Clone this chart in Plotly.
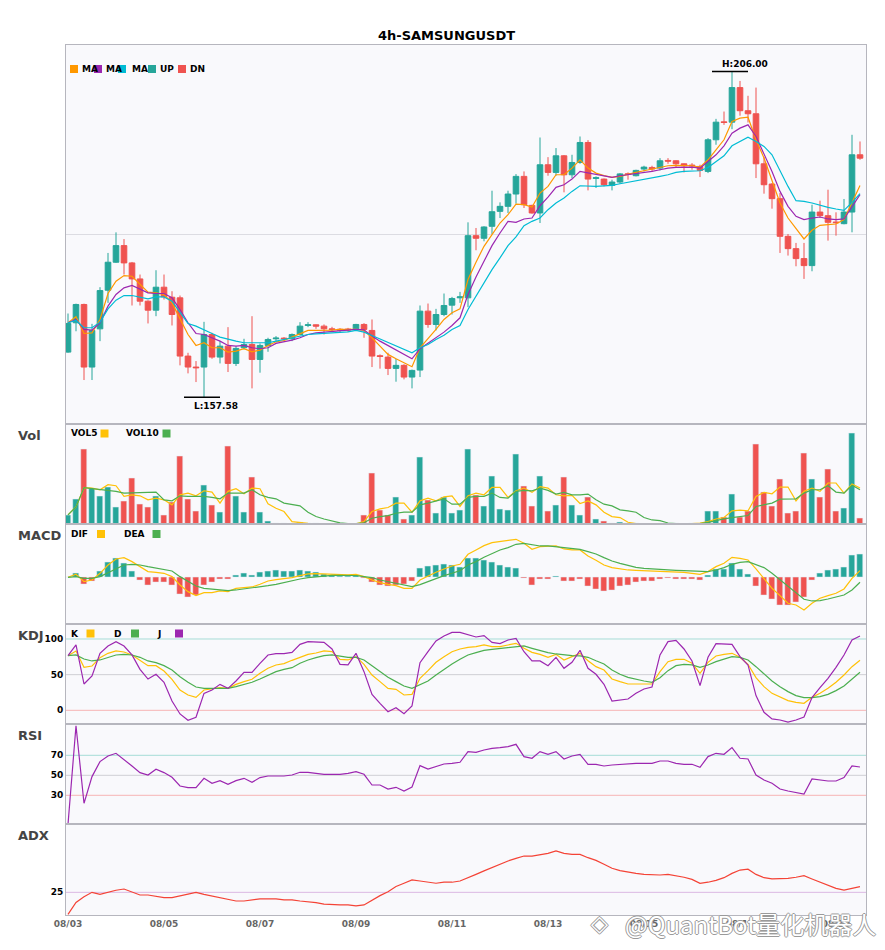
import pandas as pd
import plotly.graph_objects as go
from plotly.subplots import make_subplots

# 4h candles of SAMSUNGUSDT
symbol = "SAMSUNGUSDT"
interval = "4h"
times = pd.date_range("2025-08-03 00:00", periods=100, freq="4h")

open_ = [164.30, 168.66, 171.38, 162.08, 167.76, 173.50, 177.66, 180.13, 177.56, 175.18,
         171.87, 170.53, 173.95, 172.46, 172.37, 163.71, 162.08, 162.08, 166.92, 163.56,
         165.19, 162.62, 164.95, 165.44, 163.21, 165.29, 166.28, 166.38, 166.28, 166.92,
         168.26, 168.36, 168.16, 167.76, 167.70, 167.72, 167.76, 168.41, 167.52, 163.76,
         163.56, 161.88, 162.33, 160.59, 161.63, 170.39, 168.41, 169.89, 171.28, 172.37,
         172.37, 181.61, 181.22, 183.00, 185.22, 185.97, 187.80, 190.42, 186.11, 184.98,
         192.15, 191.01, 193.48, 190.66, 192.49, 195.46, 190.12, 190.02, 189.08, 189.58,
         190.81, 190.52, 191.51, 191.75, 191.65, 192.79, 192.74, 192.29, 192.10, 191.90,
         191.16, 195.86, 198.53, 198.48, 203.62, 200.18, 199.73, 192.29, 189.28, 187.11,
         181.51, 179.68, 178.20, 177.16, 185.12, 184.58, 183.64, 183.39, 185.12, 193.63]
high = [170.04, 171.50, 171.50, 168.50, 173.95, 179.04, 182.10, 181.10, 177.70, 175.83,
        172.00, 176.47, 175.83, 173.35, 172.71, 164.20, 162.97, 168.80, 167.17, 165.93,
        168.01, 165.19, 166.28, 169.64, 165.59, 166.43, 166.68, 166.53, 167.07, 168.75,
        168.75, 168.41, 168.41, 168.06, 167.86, 167.90, 168.50, 168.60, 169.15, 163.96,
        164.20, 163.31, 162.50, 161.70, 171.23, 171.52, 170.73, 173.01, 172.51, 173.25,
        183.59, 182.75, 183.00, 188.29, 186.56, 188.29, 190.76, 191.16, 186.20, 196.20,
        193.28, 194.63, 193.60, 193.63, 196.35, 195.81, 190.42, 190.10, 189.93, 190.91,
        191.01, 191.41, 192.00, 192.00, 193.13, 193.13, 192.80, 192.35, 192.39, 192.15,
        196.10, 198.97, 200.06, 206.00, 204.61, 202.40, 203.62, 193.28, 189.43, 187.95,
        181.86, 180.53, 180.53, 186.21, 186.81, 188.44, 185.08, 187.06, 196.60, 195.61]
low = [164.20, 167.40, 160.15, 160.15, 165.93, 171.62, 177.56, 175.83, 171.23, 171.23,
       168.56, 169.64, 172.12, 168.26, 162.33, 161.14, 159.85, 157.58, 163.31, 162.62,
       161.34, 162.23, 164.70, 158.91, 161.24, 164.35, 165.78, 165.93, 165.93, 166.78,
       168.01, 167.76, 166.92, 167.27, 167.27, 167.30, 167.60, 166.43, 162.08, 161.84,
       160.89, 159.90, 160.25, 158.91, 160.59, 167.92, 167.52, 169.64, 169.89, 171.62,
       170.98, 179.44, 180.77, 181.86, 184.23, 184.98, 186.37, 185.72, 184.88, 183.49,
       190.52, 190.52, 188.05, 190.17, 192.30, 188.34, 188.69, 188.93, 188.34, 189.33,
       189.93, 190.42, 191.16, 191.16, 191.31, 192.29, 191.75, 191.01, 191.41, 190.32,
       190.91, 195.12, 198.08, 197.44, 199.44, 198.43, 190.17, 187.85, 185.62, 179.04,
       178.65, 177.06, 175.18, 176.32, 184.23, 180.87, 181.61, 183.30, 182.11, 192.89]
close = [168.56, 171.38, 162.08, 167.52, 173.45, 177.66, 180.13, 177.56, 175.18, 171.87,
         170.53, 173.95, 172.51, 169.89, 163.71, 162.08, 161.98, 166.92, 163.56, 165.19,
         162.62, 164.85, 165.44, 163.21, 165.29, 166.18, 166.38, 166.28, 166.92, 168.16,
         168.36, 168.16, 167.76, 167.67, 167.57, 167.60, 168.41, 167.67, 163.71, 163.66,
         161.88, 162.33, 160.59, 161.58, 170.39, 168.41, 169.89, 171.23, 172.27, 172.51,
         181.61, 181.22, 182.90, 185.17, 185.97, 187.80, 190.42, 186.21, 184.98, 192.15,
         191.01, 193.48, 190.66, 192.49, 195.46, 190.02, 190.22, 189.18, 189.58, 190.79,
         190.71, 191.31, 191.80, 191.51, 192.74, 192.69, 192.29, 192.00, 192.00, 191.31,
         195.86, 198.48, 198.43, 203.62, 200.18, 199.73, 192.29, 189.18, 187.11, 181.51,
         179.68, 178.20, 177.16, 185.12, 184.58, 183.59, 183.54, 185.12, 193.63, 193.13]

ma5 = [168.66, 169.55, 167.07, 167.17, 169.15, 173.01, 174.84, 175.68, 175.58, 174.34,
       173.21, 173.11, 172.86, 171.62, 169.15, 166.92, 165.29, 165.69, 164.95, 164.95,
       164.30, 164.45, 164.80, 164.35, 164.60, 165.29, 165.83, 166.03, 166.53, 167.07,
       167.52, 167.52, 167.52, 167.57, 167.67, 167.67, 167.67, 167.52, 166.43, 165.19,
       163.96, 163.31, 162.72, 162.13, 164.95, 166.28, 167.67, 169.15, 170.14, 170.73,
       175.09, 177.66, 180.03, 181.76, 183.49, 184.73, 186.31, 186.21, 185.87, 187.94,
       188.93, 190.66, 190.66, 191.65, 192.89, 191.65, 190.91, 190.54, 190.27, 190.42,
       190.66, 191.01, 191.26, 191.51, 191.75, 192.00, 192.05, 192.05, 192.00, 191.80,
       192.89, 194.37, 195.86, 198.58, 199.07, 199.22, 195.86, 193.14, 189.68, 186.46,
       184.23, 182.60, 181.12, 182.40, 183.15, 183.25, 183.34, 184.00, 186.46, 189.08]
ma10 = [168.66, 169.15, 167.67, 167.57, 168.66, 171.13, 172.86, 173.85, 174.20, 173.70,
        173.11, 173.01, 173.01, 172.37, 170.63, 168.66, 167.07, 166.92, 166.43, 165.93,
        165.29, 165.19, 165.29, 164.95, 164.80, 164.95, 165.59, 165.78, 166.08, 166.43,
        166.92, 167.17, 167.27, 167.37, 167.42, 167.57, 167.67, 167.62, 166.68, 165.93,
        165.29, 164.60, 163.96, 163.31, 164.80, 165.59, 166.43, 167.27, 168.26, 169.40,
        172.86, 175.48, 177.81, 180.13, 182.01, 183.74, 183.59, 184.09, 184.23, 186.06,
        187.35, 188.79, 189.18, 190.02, 191.16, 190.91, 190.66, 190.42, 190.27, 190.52,
        190.66, 190.91, 191.01, 191.16, 191.41, 191.65, 191.75, 191.80, 191.80, 191.65,
        192.64, 193.63, 194.97, 196.85, 197.59, 198.08, 196.35, 193.88, 191.16, 188.19,
        185.97, 184.48, 183.99, 184.23, 184.38, 184.09, 183.99, 184.09, 185.97, 187.70]
ma20 = [168.66, 169.00, 167.92, 167.92, 168.75, 170.73, 172.02, 172.71, 172.71, 172.51,
        172.22, 172.51, 172.51, 171.87, 170.14, 168.56, 168.16, 167.57, 167.07, 166.53,
        166.18, 165.93, 165.69, 165.69, 165.69, 165.69, 165.93, 166.18, 166.53, 166.78,
        166.92, 167.02, 167.07, 167.17, 167.27, 167.32, 167.52, 167.27, 166.78, 166.28,
        165.69, 165.19, 164.70, 164.20, 164.95, 165.44, 166.18, 166.82, 167.67, 168.26,
        170.63, 172.61, 174.59, 176.57, 178.30, 180.13, 181.42, 183.10, 183.74, 184.23,
        185.47, 186.46, 187.20, 188.19, 189.03, 188.93, 188.93, 189.00, 189.08, 189.33,
        189.53, 189.82, 190.02, 190.17, 190.42, 190.66, 191.01, 191.16, 191.26, 191.26,
        191.75, 192.64, 193.48, 194.97, 195.61, 196.25, 195.61, 194.87, 193.63, 191.16,
        188.93, 186.81, 186.71, 186.46, 186.11, 185.82, 185.57, 185.37, 186.56, 187.85]

volume = [9.3, 25.3, 74.3, 35.3, 27.7, 36.7, 16.7, 23.3, 45.3, 20.3,
          16.7, 28.3, 9.3, 22.0, 67.3, 25.3, 13.3, 38.3, 19.3, 12.0,
          77.3, 28.3, 12.0, 46.7, 12.0, 3.3, 1.3, 1.3, 0.3, 1.7,
          0.7, 0.7, 0.3, 0.5, 0.4, 0.3, 0.5, 8.7, 50.3, 14.3,
          8.7, 27.3, 5.3, 8.7, 66.3, 24.3, 11.3, 26.7, 11.3, 14.3,
          74.3, 28.7, 18.3, 47.3, 15.3, 14.3, 69.3, 37.3, 18.3, 47.3,
          13.3, 19.3, 46.7, 19.3, 8.7, 26.7, 5.3, 3.3, 1.3, 2.3,
          1.3, 0.7, 0.5, 0.3, 0.3, 1.3, 0.7, 0.5, 1.0, 1.0,
          13.3, 13.3, 7.3, 29.3, 7.3, 12.7, 79.3, 31.3, 18.3, 44.3,
          11.3, 13.3, 70.3, 44.3, 26.7, 54.3, 13.3, 16.3, 90.3, 6.3]
vol5 = [9.3, 17.3, 36.3, 36.0, 34.3, 39.3, 38.3, 27.7, 29.3, 28.3,
        24.3, 26.0, 24.3, 19.3, 29.3, 31.0, 28.3, 33.3, 32.0, 21.0,
        32.7, 35.3, 30.3, 36.0, 35.3, 20.3, 16.0, 12.7, 2.7, 1.7,
        1.0, 0.8, 0.8, 0.7, 0.6, 0.5, 0.5, 2.7, 12.7, 15.3,
        16.7, 21.0, 21.0, 12.0, 23.3, 26.0, 23.3, 27.3, 28.3, 17.7,
        28.3, 31.0, 29.3, 36.7, 36.7, 26.7, 33.3, 36.0, 31.7, 37.3,
        36.0, 29.3, 28.3, 28.7, 20.7, 23.3, 19.3, 12.0, 7.7, 6.7,
        2.0, 0.7, 0.6, 0.5, 0.5, 0.6, 0.6, 0.6, 0.8, 1.3,
        2.7, 5.3, 6.7, 13.3, 14.0, 13.3, 27.7, 31.7, 30.3, 37.0,
        37.0, 23.3, 32.7, 36.0, 32.7, 41.0, 41.0, 31.0, 40.0, 36.0]
vol10 = [9.3, 17.3, 36.3, 35.3, 34.3, 34.0, 32.7, 31.0, 31.0, 31.7,
         31.7, 32.0, 24.3, 23.3, 28.3, 27.7, 27.7, 27.7, 26.7, 25.3,
         31.0, 31.0, 31.0, 34.3, 29.3, 26.7, 25.3, 21.0, 19.3, 18.3,
         12.0, 7.7, 5.3, 3.3, 1.5, 0.7, 0.7, 1.5, 6.0, 7.7,
         8.7, 11.0, 12.0, 12.0, 19.3, 21.0, 23.3, 25.3, 20.0, 20.0,
         26.7, 27.7, 27.7, 31.0, 26.7, 26.0, 32.7, 33.7, 33.3, 36.0,
         33.7, 30.0, 31.7, 29.3, 29.3, 30.0, 24.3, 20.0, 18.3, 14.3,
         13.3, 12.0, 6.7, 4.3, 3.7, 1.3, 0.8, 0.8, 0.8, 0.8,
         2.0, 3.3, 5.3, 6.7, 7.7, 8.7, 17.7, 19.3, 21.0, 25.0,
         25.0, 25.3, 31.0, 34.3, 34.3, 38.3, 32.0, 31.0, 38.7, 34.3]

macd_hist = [0.0, 0.65, -1.05, -0.55, 0.95, 2.3, 2.9, 2.15, 0.95, -0.5,
             -1.25, -0.8, -0.8, -1.25, -2.6, -3.05, -2.65, -1.15, -0.8, -0.25,
             -0.25, 0.35, 0.65, 0.35, 0.8, 0.95, 1.1, 0.95, 0.95, 1.1,
             0.95, 0.8, 0.5, 0.25, 0.1, 0.1, 0.25, -0.15, -0.75, -1.15,
             -1.4, -1.15, -1.05, -0.65, 1.35, 1.7, 1.8, 1.95, 1.85, 1.55,
             2.9, 2.9, 2.6, 2.3, 1.85, 1.55, 1.4, -0.15, -1.15, -0.25,
             -0.25, 0.15, -0.65, -0.65, -0.25, -1.4, -1.8, -2.15, -2.0, -1.4,
             -1.15, -0.8, -0.55, -0.55, -0.25, -0.15, -0.25, -0.25, -0.3, -0.5,
             0.35, 1.25, 1.25, 2.15, 1.25, 0.5, -1.4, -2.75, -3.35, -4.25,
             -4.25, -3.8, -3.05, -0.5, 0.65, 1.1, 1.25, 1.55, 3.35, 3.5]
dif = [0.0, 0.45, -0.65, -0.4, 0.6, 1.85, 2.75, 2.95, 2.35, 1.6,
       0.85, 0.75, 0.6, 0.1, -1.15, -2.15, -2.75, -2.3, -2.3, -2.05,
       -2.15, -1.65, -1.55, -1.45, -1.05, -0.55, -0.35, -0.25, -0.05, 0.25,
       0.5, 0.55, 0.5, 0.45, 0.35, 0.35, 0.45, 0.1, -0.4, -0.8,
       -1.05, -1.25, -1.65, -1.65, -0.4, 0.2, 0.75, 1.25, 1.7, 1.95,
       3.45, 4.1, 4.75, 5.2, 5.35, 5.45, 5.7, 5.1, 4.2, 4.6,
       4.6, 4.7, 4.25, 4.1, 4.1, 3.2, 2.55, 1.85, 1.45, 1.25,
       1.1, 1.05, 1.0, 1.0, 1.0, 0.95, 0.85, 0.75, 0.6, 0.45,
       0.85, 1.6, 2.1, 3.0, 2.85, 2.6, 1.25, -0.15, -1.65, -2.75,
       -3.9, -4.15, -4.9, -3.9, -3.15, -2.75, -2.4, -1.75, -0.15, 1.0]
dea = [0.0, 0.1, -0.15, -0.15, 0.1, 0.7, 1.35, 1.85, 1.95, 1.85,
       1.6, 1.35, 1.2, 0.95, 0.1, -0.65, -1.3, -1.65, -1.8, -1.9,
       -2.0, -1.9, -1.75, -1.65, -1.5, -1.25, -1.05, -0.75, -0.5, -0.25,
       -0.05, 0.1, 0.25, 0.3, 0.28, 0.27, 0.27, 0.1, -0.05, -0.4,
       -0.65, -0.9, -1.15, -1.4, -1.1, -0.65, -0.15, 0.25, 0.6, 1.0,
       1.85, 2.35, 3.0, 3.6, 4.1, 4.45, 4.95, 5.1, 4.85, 4.7,
       4.7, 4.6, 4.45, 4.35, 4.2, 3.85, 3.5, 2.95, 2.45, 2.1,
       1.75, 1.5, 1.35, 1.25, 1.15, 1.1, 1.05, 1.0, 0.95, 0.85,
       0.85, 1.1, 1.45, 1.95, 2.25, 2.35, 1.95, 1.45, 0.6, -0.4,
       -1.4, -2.3, -3.3, -3.55, -3.5, -3.25, -3.0, -2.65, -1.9, -0.75]

k_line = [76.6, 83.2, 60.3, 62.1, 73.8, 79.9, 83.2, 81.8, 77.6, 70.1,
          62.6, 62.6, 55.1, 43.5, 28.5, 21.5, 18.2, 28.5, 29.9, 31.8,
          30.8, 36.4, 40.2, 43.5, 51.9, 58.9, 63.6, 65.4, 70.1, 74.3,
          78.5, 80.4, 83.2, 82.2, 71.5, 70.6, 75.2, 64.5, 49.5, 40.2,
          30.8, 29.4, 21.5, 22.4, 44.9, 55.6, 67.3, 75.2, 82.2, 86.0,
          88.3, 89.3, 91.6, 89.3, 89.3, 91.6, 93.9, 86.9, 81.3, 78.5,
          74.3, 78.5, 70.6, 75.2, 79.9, 69.6, 61.2, 56.5, 43.9, 40.2,
          36.9, 36.9, 36.9, 36.9, 54.2, 68.2, 71.5, 71.5, 65.9, 51.9,
          67.3, 76.2, 78.5, 79.9, 74.3, 64.5, 45.8, 33.2, 23.8, 18.2,
          13.6, 11.2, 9.8, 18.2, 23.8, 30.8, 39.3, 49.5, 61.2, 70.1]
d_line = [76.6, 77.6, 72.0, 69.2, 70.6, 73.8, 77.6, 78.5, 77.6, 74.3,
          69.2, 66.8, 62.6, 56.5, 47.2, 39.3, 32.7, 30.8, 30.8, 30.8,
          30.8, 33.2, 36.4, 39.3, 43.9, 49.5, 54.2, 57.5, 59.8, 65.9,
          70.6, 73.8, 76.6, 77.6, 76.2, 74.3, 74.3, 70.6, 62.6, 54.2,
          46.3, 40.2, 34.1, 30.8, 35.5, 41.1, 49.5, 57.5, 65.0, 71.5,
          77.6, 80.8, 84.1, 85.5, 86.9, 88.3, 89.7, 90.2, 86.9, 83.6,
          80.8, 79.0, 77.6, 76.6, 76.2, 74.3, 69.5, 65.0, 56.5, 50.5,
          46.3, 43.5, 41.1, 39.3, 45.8, 55.6, 62.6, 64.5, 63.6, 60.3,
          63.6, 68.2, 72.0, 75.2, 74.3, 70.6, 61.2, 50.5, 41.1, 33.2,
          26.2, 20.6, 17.8, 17.8, 19.2, 22.4, 27.6, 34.1, 43.9, 53.3]
j_line = [76.6, 91.6, 36.9, 48.1, 79.9, 90.2, 96.3, 90.2, 77.6, 57.5,
          43.9, 50.5, 39.3, 13.1, -5.1, -14.0, -9.8, 23.8, 28.5, 36.4,
          30.8, 41.1, 53.3, 53.3, 65.9, 77.6, 79.4, 79.4, 81.3, 92.5,
          96.3, 95.3, 95.3, 86.0, 64.5, 63.6, 79.9, 54.2, 22.4, 9.8,
          -1.9, 3.7, -4.7, 6.1, 66.8, 82.2, 97.2, 104.2, 109.3, 109.3,
          106.5, 102.8, 104.7, 95.3, 93.5, 98.6, 100.9, 82.2, 69.2, 69.2,
          62.6, 74.3, 58.9, 67.3, 84.1, 58.9, 50.5, 36.4, 13.1, 14.0,
          15.9, 23.8, 29.9, 32.7, 77.6, 96.3, 98.1, 86.0, 69.2, 34.6,
          74.3, 93.5, 93.5, 92.5, 75.2, 63.6, 20.6, -2.8, -12.1, -13.6,
          -16.4, -13.6, -9.3, 17.8, 31.8, 44.9, 60.3, 77.6, 98.6, 104.2]

rsi = [1.0, 99.5, 22.0, 48.7, 63.7, 69.3, 72.0, 66.0, 59.3, 52.7,
       50.3, 56.0, 52.7, 48.0, 39.3, 37.7, 37.7, 47.0, 42.0, 44.7,
       41.0, 44.7, 47.0, 43.0, 47.7, 49.3, 49.3, 49.3, 50.3, 53.0,
       53.0, 52.0, 51.0, 51.0, 51.0, 52.0, 53.7, 51.0, 40.3, 40.3,
       36.3, 38.0, 34.3, 38.3, 59.7, 56.3, 58.7, 61.3, 62.0, 63.0,
       73.7, 73.0, 75.3, 77.0, 77.7, 78.7, 81.0, 68.7, 67.0, 73.7,
       71.0, 73.7, 66.3, 69.3, 71.0, 61.0, 61.0, 59.3, 60.3, 61.0,
       61.0, 62.0, 62.0, 62.0, 64.3, 64.3, 62.0, 61.0, 61.0, 58.0,
       68.7, 72.0, 71.0, 77.7, 67.0, 66.3, 50.3, 45.3, 42.0, 36.3,
       34.3, 32.7, 31.3, 46.3, 45.3, 44.3, 44.3, 47.7, 59.3, 58.3]

adx = [14.3, 20.1, 22.9, 25.0, 24.0, 25.0, 26.0, 26.6, 25.3, 23.7,
       23.7, 22.9, 22.4, 22.4, 23.2, 24.0, 25.0, 24.0, 23.2, 22.7,
       21.6, 20.8, 20.8, 21.3, 21.8, 21.8, 21.8, 21.3, 21.3, 20.8,
       20.5, 20.0, 19.3, 19.0, 18.9, 18.9, 18.4, 18.9, 21.3, 23.4,
       25.3, 27.8, 29.4, 31.0, 30.5, 29.9, 29.4, 29.9, 29.9, 30.5,
       32.3, 33.7, 35.4, 37.1, 38.6, 40.2, 41.5, 42.6, 42.6, 43.4,
       43.9, 45.1, 43.9, 43.4, 43.4, 41.8, 40.5, 38.6, 36.7, 35.5,
       34.7, 34.2, 33.7, 33.4, 33.4, 33.7, 33.1, 32.3, 31.3, 29.4,
       29.9, 30.8, 32.1, 34.2, 35.8, 36.2, 33.7, 32.1, 31.5, 31.5,
       31.8, 32.3, 33.1, 31.5, 29.9, 28.2, 26.9, 26.1, 26.9, 27.8]

UP = "#26a69a"
DN = "#ef5350"
FONT = "DejaVu Sans"
n = len(close)
idx = list(range(n))

# x ticks: every second day at midnight
tick_pos = [i for i, t in enumerate(times) if t.hour == 0 and (t.day - 3) % 2 == 0]
tick_txt = [times[i].strftime("%m/%d") for i in tick_pos]

vol_colors = [UP if c >= o else DN for o, c in zip(open_, close)]
hist_colors = [UP if v >= 0 else DN for v in macd_hist]

fig = make_subplots(rows=6, cols=1, shared_xaxes=True, vertical_spacing=0,
                    row_heights=[379.3, 100, 100, 100, 100, 90.7])

fig.add_trace(go.Candlestick(
    x=idx, open=open_, high=high, low=low, close=close,
    increasing=dict(line=dict(color=UP, width=1), fillcolor=UP),
    decreasing=dict(line=dict(color=DN, width=1), fillcolor=DN),
    whiskerwidth=0, showlegend=False, hoverinfo="skip"), row=1, col=1)
for vals, col in [(ma5, "#ff9800"), (ma10, "#9c27b0"), (ma20, "#00bcd4")]:
    fig.add_trace(go.Scatter(x=idx, y=vals, mode="lines", line=dict(color=col, width=1.2),
                             showlegend=False, hoverinfo="skip"), row=1, col=1)

fig.add_trace(go.Bar(x=idx, y=volume, marker_color=vol_colors, width=0.75,
                     showlegend=False, hoverinfo="skip"), row=2, col=1)
fig.add_trace(go.Scatter(x=idx, y=vol5, mode="lines", line=dict(color="#ffc107", width=1.2),
                         showlegend=False, hoverinfo="skip"), row=2, col=1)
fig.add_trace(go.Scatter(x=idx, y=vol10, mode="lines", line=dict(color="#4caf50", width=1.2),
                         showlegend=False, hoverinfo="skip"), row=2, col=1)

fig.add_trace(go.Bar(x=idx, y=macd_hist, marker_color=hist_colors, width=0.75,
                     showlegend=False, hoverinfo="skip"), row=3, col=1)
fig.add_trace(go.Scatter(x=idx, y=dif, mode="lines", line=dict(color="#ffc107", width=1.2),
                         showlegend=False, hoverinfo="skip"), row=3, col=1)
fig.add_trace(go.Scatter(x=idx, y=dea, mode="lines", line=dict(color="#4caf50", width=1.2),
                         showlegend=False, hoverinfo="skip"), row=3, col=1)

for vals, col in [(k_line, "#ffc107"), (d_line, "#4caf50"), (j_line, "#9c27b0")]:
    fig.add_trace(go.Scatter(x=idx, y=vals, mode="lines", line=dict(color=col, width=1.2),
                             showlegend=False, hoverinfo="skip"), row=4, col=1)

fig.add_trace(go.Scatter(x=idx, y=rsi, mode="lines", line=dict(color="#9c27b0", width=1.2),
                         showlegend=False, hoverinfo="skip"), row=5, col=1)
fig.add_trace(go.Scatter(x=idx, y=adx, mode="lines", line=dict(color="#f44336", width=1.2),
                         showlegend=False, hoverinfo="skip"), row=6, col=1)

# reference levels
TEAL_L, GREY_L, PINK_L = "#a6dcd6", "#cfcfd4", "#f7b5b5"
for y, c in [(100, TEAL_L), (50, GREY_L), (0, PINK_L)]:
    fig.add_hline(y=y, line=dict(color=c, width=1), layer="below", row=4, col=1)
for y, c in [(70, TEAL_L), (50, GREY_L), (30, PINK_L)]:
    fig.add_hline(y=y, line=dict(color=c, width=1), layer="below", row=5, col=1)
fig.add_hline(y=25, line=dict(color="#dbb8e3", width=1), layer="below", row=6, col=1)

# high / low markers
ih = max(range(n), key=lambda i: high[i])
il = min(range(n), key=lambda i: low[i])
fig.add_shape(type="line", x0=ih - 2.5, x1=ih + 2, y0=high[ih], y1=high[ih],
              line=dict(color="black", width=1.5), row=1, col=1)
fig.add_shape(type="line", x0=il - 2.5, x1=il + 2, y0=low[il], y1=low[il],
              line=dict(color="black", width=1.5), row=1, col=1)
fig.add_annotation(x=ih - 1.5, y=high[ih], text=f"H:{high[ih]:.2f}", showarrow=False,
                   xanchor="left", yanchor="bottom", yshift=1,
                   font=dict(size=9, color="black", weight="bold"), row=1, col=1)
fig.add_annotation(x=il - 1.5, y=low[il], text=f"L:{low[il]:.2f}", showarrow=False,
                   xanchor="left", yanchor="top", yshift=-2,
                   font=dict(size=9, color="black", weight="bold"), row=1, col=1)


# helpers for pixel placed legend items (screen pixels of the page)
def px(x):
    return (x - 66) / 800


def py(y):
    return (915 - y) / 870


def label(x, y, text, size=9, color="black"):
    fig.add_annotation(x=px(x), y=py(y), xref="paper", yref="paper", text=text,
                       showarrow=False, xanchor="left", yanchor="middle",
                       font=dict(size=size, color=color, weight="bold"))


def square(x0, y, color, s=8):
    fig.add_shape(type="rect", xref="paper", yref="paper", x0=px(x0), x1=px(x0 + s),
                  y0=py(y + s / 2), y1=py(y - s / 2), fillcolor=color, line_width=0)


# main legend
for sx, tx, txt, col in [(70, 80, "MA", "#ff9800"), (94, 104, "MA", "#9c27b0"),
                         (118, 130, "MA", "#00bcd4"), (148, 158, "UP", UP),
                         (178, 188, "DN", DN)]:
    label(tx, 69, txt)
    square(sx, 69, col)

# panel legends
label(69, 433.5, "VOL5"); square(100.5, 433.5, "#ffc107")
label(124, 433.5, "VOL10"); square(162.5, 433.5, "#4caf50")
label(69, 534, "DIF"); square(97, 534, "#ffc107")
label(122, 534, "DEA"); square(152.5, 534, "#4caf50")
label(69, 633.5, "K"); square(86.5, 633.5, "#ffc107")
label(112, 633.5, "D"); square(131, 633.5, "#4caf50")
label(155, 633.5, "J"); square(175, 633.5, "#9c27b0")

# panel names
for y, txt in [(435, "Vol"), (535, "MACD"), (635, "KDJ"), (735, "RSI"), (835, "ADX")]:
    label(16, y, txt, size=13, color="#444444")

# watermark
outline = "1px 0 0 #9a9a9a, -1px 0 0 #9a9a9a, 0 1px 0 #9a9a9a, 0 -1px 0 #9a9a9a"
fig.add_annotation(x=px(750), y=py(924), xref="paper", yref="paper", text="@QuantBot量化机器人",
                   showarrow=False, xanchor="center", yanchor="middle",
                   font=dict(size=24, color="white", family="Noto Sans CJK SC", shadow=outline))
fig.add_annotation(x=px(599), y=py(924), xref="paper", yref="paper", text="◈",
                   showarrow=False, xanchor="center", yanchor="middle",
                   font=dict(size=22, color="white", shadow=outline))

axis_line = dict(showline=True, mirror=True, linecolor="#b6b6be", linewidth=1,
                 zeroline=False, showgrid=False)
fig.update_xaxes(range=[-0.25, n - 0.25], rangeslider_visible=False, ticks="", **axis_line)
fig.update_xaxes(tickvals=tick_pos, ticktext=tick_txt, showticklabels=True,
                 tickfont=dict(size=9, color="#666666", weight="bold"), row=6, col=1)
fig.update_yaxes(ticks="", tickfont=dict(size=9, color="black", weight="bold"), **axis_line)

price_lo, price_hi = 153.57, 209.95
fig.update_yaxes(range=[price_lo, price_hi], tickvals=[(price_lo + price_hi) / 2],
                 showticklabels=False, showgrid=True, gridcolor="#dcdce2", row=1, col=1)
fig.update_yaxes(range=[0, 99.3], showticklabels=False, row=2, col=1)
fig.update_yaxes(range=[-7.05, 7.95], showticklabels=False, row=3, col=1)
fig.update_yaxes(range=[-19.6, 120.6], tickvals=[0, 50, 100], row=4, col=1)
fig.update_yaxes(range=[1, 101], tickvals=[30, 50, 70], row=5, col=1)
fig.update_yaxes(range=[14, 58], tickvals=[25], row=6, col=1)

# the page adds an 8px body margin, so the figure is 8px smaller than the window
fig.update_layout(
    title=dict(text=f"{interval}-{symbol}", x=0.5, y=1 - 27 / 942, yanchor="middle",
               font=dict(size=13, color="black", weight="bold")),
    width=877, height=942,
    margin=dict(l=58, r=19, t=37, b=35),
    paper_bgcolor="white",
    plot_bgcolor="#f9f9fc",
    font=dict(family=FONT),
    boxgap=0.3, boxgroupgap=0,
    bargap=0,
    showlegend=False,
)

fig.write_html("out.html")
